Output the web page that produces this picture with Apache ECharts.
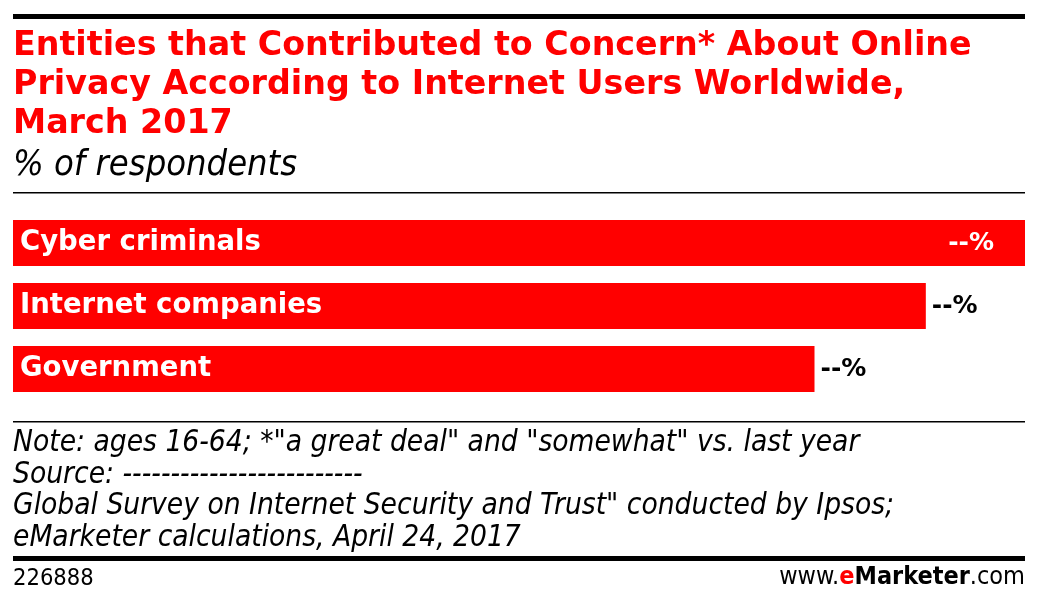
<!DOCTYPE html>
<html>
<head>
<meta charset="utf-8">
<script src="https://cdn.jsdelivr.net/npm/echarts@6/dist/echarts.min.js"></script>
<style>
  html, body { margin: 0; padding: 0; background: #fff; }
  #chart { width: 1038px; height: 608px; }
</style>
</head>
<body>
<div id="chart"></div>
<script>
// categories top to bottom, values are bar lengths (labels in source are "--%")
var categories = ['Cyber criminals', 'Internet companies', 'Government'];
var values = [100, 90.2, 79.2];
var valueLabels = ['--%', '--%', '--%'];

var titleLines = [
  'Entities that Contributed to Concern* About Online',
  'Privacy According to Internet Users Worldwide,',
  'March 2017'
];
var subtitle = '% of respondents';
var noteLines = [
  'Note: ages 16-64; *"a great deal" and "somewhat" vs. last year',
  'Source: -------------------------',
  'Global Survey on Internet Security and Trust" conducted by Ipsos;',
  'eMarketer calculations, April 24, 2017'
];
var chartId = '226888';

var RED = '#ff0000';
var BOLD = '"DejaVu Sans", sans-serif';
var COND = '"Liberation Sans Narrow", "DejaVu Sans Condensed", sans-serif';

var maxVal = Math.max.apply(null, values);
var barData = values.map(function (v, i) {
  var d = { value: v, label: { formatter: valueLabels[i] } };
  if (v === maxVal) {
    d.label.position = 'insideRight';
    d.label.color = '#fff';
    d.label.offset = [-25, 0];
  }
  return d;
});

var myChart = echarts.init(document.getElementById('chart'));
myChart.setOption({
  animation: false,
  grid: { left: 13, top: 211.5, width: 1012, height: 189, containLabel: false },
  xAxis: {
    type: 'value', min: 0, max: maxVal, show: false
  },
  yAxis: {
    type: 'category',
    data: categories,
    inverse: true,
    z: 10,
    axisLine: { show: false },
    axisTick: { show: false },
    axisLabel: {
      inside: true,
      margin: 7,
      color: '#fff',
      fontFamily: BOLD,
      fontWeight: 'bold',
      fontSize: 27.5
    }
  },
  series: [{
    type: 'bar',
    barWidth: 46,
    itemStyle: { color: RED },
    label: {
      show: true,
      position: 'right',
      distance: 6,
      color: '#000',
      fontFamily: BOLD,
      fontWeight: 'bold',
      fontSize: 25
    },
    data: barData
  }],
  graphic: [
    { type: 'rect', shape: { x: 13, y: 14, width: 1012, height: 5 }, style: { fill: '#000' } },
    { type: 'text', left: 13, top: 27, style: {
        text: titleLines.join('\n'), fill: RED, font: 'bold 33.3px ' + BOLD, lineHeight: 39 } },
    { type: 'text', left: 13, top: 148, style: {
        text: subtitle, fill: '#000', font: 'italic 36px ' + COND } },
    { type: 'rect', shape: { x: 13, y: 192, width: 1012, height: 1.5 }, style: { fill: '#000' } },
    { type: 'rect', shape: { x: 13, y: 421, width: 1012, height: 1.5 }, style: { fill: '#000' } },
    { type: 'text', left: 13, top: 428, style: {
        text: noteLines.join('\n'), fill: '#000', font: 'italic 29.6px ' + COND, lineHeight: 31.5 } },
    { type: 'rect', shape: { x: 13, y: 556, width: 1012, height: 5 }, style: { fill: '#000' } },
    { type: 'text', left: 13, top: 567, style: {
        text: chartId, fill: '#000', font: '23.5px ' + COND } },
    { type: 'text', right: 13, top: 565, style: {
        text: '{a|www.}{b|e}{c|Marketer}{a|.com}',
        rich: {
          a: { fill: '#000', font: '25px ' + COND },
          b: { fill: RED, font: 'bold 25px ' + COND },
          c: { fill: '#000', font: 'bold 25px ' + COND }
        } } }
  ]
});
window.addEventListener('resize', function () { myChart.resize(); });
</script>
</body>
</html>
